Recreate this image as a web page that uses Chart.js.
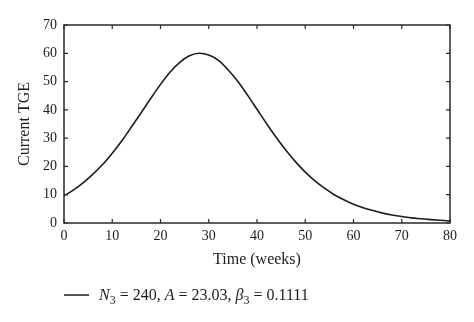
<!DOCTYPE html>
<html>
<head>
<meta charset="utf-8">
<script src="https://cdn.jsdelivr.net/npm/chart.js@4.4.1/dist/chart.umd.min.js"></script>
<style>
  html, body { margin: 0; padding: 0; background: #fff; }
  #wrap { width: 474px; height: 322px; }
</style>
</head>
<body>
<div id="wrap"><canvas id="tgeChart" width="474" height="322"></canvas></div>
<script>
  // weekly samples of the current TGE curve
  const weeks = [0, 2, 4, 6, 8, 10, 12, 14, 16, 18, 20, 22, 24, 26, 28, 30, 32, 34, 36, 38, 40,
                 42, 44, 46, 48, 50, 52, 54, 56, 58, 60, 62, 64, 66, 68, 70, 72, 74, 76, 78, 80];
  const tge = [9.6, 11.7, 14.3, 17.3, 20.7, 24.7, 29.1, 34.0, 39.0, 44.1, 49.0, 53.4, 56.8, 59.1, 60.0,
               59.4, 57.5, 54.2, 50.1, 45.3, 40.2, 35.1, 30.2, 25.7, 21.6, 18.0, 14.9, 12.3, 10.0, 8.2,
               6.6, 5.4, 4.4, 3.5, 2.8, 2.3, 1.8, 1.5, 1.2, 0.95, 0.76];
  const xTicks = [0, 10, 20, 30, 40, 50, 60, 70, 80];
  const yTicks = [0, 10, 20, 30, 40, 50, 60, 70];

  const SERIF = "'Liberation Serif', 'Times New Roman', serif";
  const INK = "#1c1c1c";

  // box around the plot + inward ticks on all four sides
  const framePlugin = {
    id: "frame",
    afterDraw(chart) {
      const { ctx, chartArea: a, scales } = chart;
      ctx.save();
      ctx.strokeStyle = "#2a2a2a";
      ctx.lineWidth = 1.5;
      ctx.strokeRect(a.left, a.top, a.right - a.left, a.bottom - a.top);
      ctx.lineWidth = 1.2;
      const len = 4;
      ctx.beginPath();
      xTicks.forEach((v) => {
        const px = scales.x.getPixelForValue(v);
        ctx.moveTo(px, a.bottom); ctx.lineTo(px, a.bottom - len);
        ctx.moveTo(px, a.top); ctx.lineTo(px, a.top + len);
      });
      yTicks.forEach((v) => {
        const py = scales.y.getPixelForValue(v);
        ctx.moveTo(a.left, py); ctx.lineTo(a.left + len, py);
        ctx.moveTo(a.right, py); ctx.lineTo(a.right - len, py);
      });
      ctx.stroke();
      ctx.restore();
    },
  };

  // legend with italic symbols and subscripts
  const legendPlugin = {
    id: "mathLegend",
    afterDraw(chart) {
      const { ctx, chartArea: a } = chart;
      const y = 295;
      ctx.save();
      ctx.strokeStyle = INK;
      ctx.lineWidth = 1.5;
      ctx.beginPath();
      ctx.moveTo(a.left, y);
      ctx.lineTo(a.left + 25, y);
      ctx.stroke();

      const parts = [
        ["N", "italic"],
        ["3", "sub"],
        [" = 240, ", ""],
        ["A", "italic"],
        [" = 23.03, ", ""],
        ["\u03B2", "italic"],
        ["3", "sub"],
        [" = 0.1111", ""],
      ];
      let x = a.left + 35;
      ctx.fillStyle = INK;
      ctx.textBaseline = "alphabetic";
      const base = y + 5;
      parts.forEach(([txt, style]) => {
        let dy = 0;
        if (style === "italic") ctx.font = "italic 16px " + SERIF;
        else if (style === "sub") { ctx.font = "12px " + SERIF; dy = 4; }
        else ctx.font = "16px " + SERIF;
        ctx.fillText(txt, x, base + dy);
        x += ctx.measureText(txt).width;
      });
      ctx.restore();
    },
  };

  const ctx = document.getElementById("tgeChart");
  new Chart(ctx, {
    type: "line",
    data: {
      datasets: [
        {
          data: weeks.map((w, i) => ({ x: w, y: tge[i] })),
          borderColor: INK,
          borderWidth: 1.6,
          pointRadius: 0,
          cubicInterpolationMode: "monotone",
          fill: false,
        },
      ],
    },
    options: {
      responsive: false,
      animation: false,
      devicePixelRatio: 1,
      layout: { padding: { top: 25, right: 24, bottom: 49, left: 0 } },
      plugins: { legend: { display: false }, tooltip: { enabled: false } },
      scales: {
        x: {
          type: "linear",
          min: 0,
          max: 80,
          afterFit(scale) { scale.height = 50; },
          afterBuildTicks(scale) { scale.ticks = xTicks.map((v) => ({ value: v })); },
          grid: { display: false, drawTicks: false },
          border: { display: false },
          ticks: { color: INK, padding: 5, font: { family: SERIF, size: 14 } },
          title: {
            display: true,
            text: "Time (weeks)",
            color: INK,
            padding: { top: 0, bottom: 4 },
            font: { family: SERIF, size: 16 },
          },
        },
        y: {
          min: 0,
          max: 70,
          afterFit(scale) { scale.width = 64; },
          afterBuildTicks(scale) { scale.ticks = yTicks.map((v) => ({ value: v })); },
          grid: { display: false, drawTicks: false },
          border: { display: false },
          ticks: { color: INK, padding: 7, font: { family: SERIF, size: 14 } },
          title: {
            display: true,
            text: "Current TGE",
            color: INK,
            padding: { top: 15, bottom: 0 },
            font: { family: SERIF, size: 16 },
          },
        },
      },
    },
    plugins: [framePlugin, legendPlugin],
  });
</script>
</body>
</html>
